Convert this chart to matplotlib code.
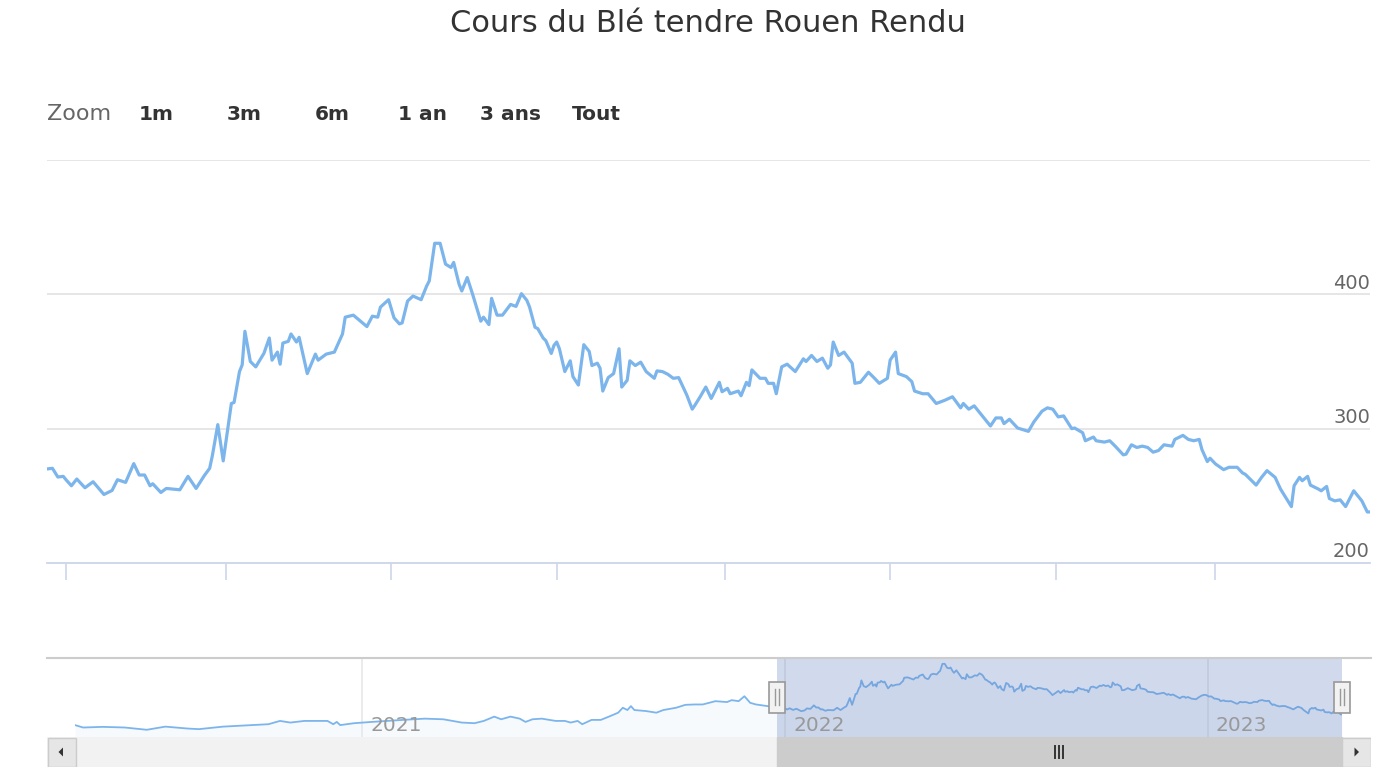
import matplotlib
matplotlib.use("Agg")
import matplotlib.pyplot as plt
import matplotlib.dates as mdates
from matplotlib.patches import Rectangle, Polygon
from matplotlib.lines import Line2D
from matplotlib.transforms import IdentityTransform
import pandas as pd

# cours journalier (€/t) sur la période affichée
dates = [
    "2021-12-25", "2021-12-27", "2021-12-29", "2021-12-31", "2022-01-01", "2022-01-03", "2022-01-05",
    "2022-01-08", "2022-01-11", "2022-01-15", "2022-01-18", "2022-01-20", "2022-01-23", "2022-01-26",
    "2022-01-28", "2022-01-30", "2022-02-01", "2022-02-02", "2022-02-05", "2022-02-07", "2022-02-12",
    "2022-02-15", "2022-02-18", "2022-02-21", "2022-02-23", "2022-02-24", "2022-02-26", "2022-02-28",
    "2022-03-03", "2022-03-04", "2022-03-06", "2022-03-07", "2022-03-08", "2022-03-10", "2022-03-12",
    "2022-03-15", "2022-03-17", "2022-03-18", "2022-03-20", "2022-03-21", "2022-03-22", "2022-03-24",
    "2022-03-25", "2022-03-27", "2022-03-28", "2022-03-31", "2022-04-03", "2022-04-04", "2022-04-07",
    "2022-04-10", "2022-04-13", "2022-04-14", "2022-04-17", "2022-04-22", "2022-04-24", "2022-04-26",
    "2022-04-27", "2022-04-30", "2022-05-02", "2022-05-04", "2022-05-05", "2022-05-07", "2022-05-09",
    "2022-05-12", "2022-05-14", "2022-05-15", "2022-05-17", "2022-05-19", "2022-05-21", "2022-05-23",
    "2022-05-24", "2022-05-26", "2022-05-27", "2022-05-29", "2022-05-31", "2022-06-03", "2022-06-04",
    "2022-06-06", "2022-06-07", "2022-06-09", "2022-06-11", "2022-06-14", "2022-06-16", "2022-06-18",
    "2022-06-20", "2022-06-21", "2022-06-23", "2022-06-24", "2022-06-26", "2022-06-27", "2022-06-29",
    "2022-06-30", "2022-07-01", "2022-07-02", "2022-07-04", "2022-07-06", "2022-07-07", "2022-07-09",
    "2022-07-11", "2022-07-13", "2022-07-14", "2022-07-16", "2022-07-17", "2022-07-18", "2022-07-20",
    "2022-07-22", "2022-07-24", "2022-07-25", "2022-07-27", "2022-07-28", "2022-07-30", "2022-08-01",
    "2022-08-03", "2022-08-06", "2022-08-07", "2022-08-09", "2022-08-11", "2022-08-13", "2022-08-15",
    "2022-08-18", "2022-08-20", "2022-08-21", "2022-08-23", "2022-08-25", "2022-08-27", "2022-08-30",
    "2022-08-31", "2022-09-02", "2022-09-03", "2022-09-06", "2022-09-07", "2022-09-09", "2022-09-10",
    "2022-09-11", "2022-09-14", "2022-09-16", "2022-09-17", "2022-09-19", "2022-09-20", "2022-09-22",
    "2022-09-24", "2022-09-27", "2022-09-30", "2022-10-01", "2022-10-03", "2022-10-05", "2022-10-07",
    "2022-10-09", "2022-10-10", "2022-10-11", "2022-10-13", "2022-10-15", "2022-10-18", "2022-10-19",
    "2022-10-21", "2022-10-24", "2022-10-26", "2022-10-28", "2022-10-31", "2022-11-01", "2022-11-03",
    "2022-11-04", "2022-11-07", "2022-11-09", "2022-11-10", "2022-11-13", "2022-11-15", "2022-11-18",
    "2022-11-21", "2022-11-24", "2022-11-27", "2022-11-28", "2022-11-30", "2022-12-02", "2022-12-08",
    "2022-12-10", "2022-12-12", "2022-12-13", "2022-12-15", "2022-12-18", "2022-12-22", "2022-12-24",
    "2022-12-27", "2022-12-29", "2022-12-31", "2023-01-02", "2023-01-04", "2023-01-07", "2023-01-08",
    "2023-01-11", "2023-01-12", "2023-01-15", "2023-01-16", "2023-01-19", "2023-01-21", "2023-01-23",
    "2023-01-26", "2023-01-27", "2023-01-29", "2023-01-31", "2023-02-02", "2023-02-04", "2023-02-06",
    "2023-02-08", "2023-02-10", "2023-02-13", "2023-02-14", "2023-02-17", "2023-02-19", "2023-02-21",
    "2023-02-23", "2023-02-24", "2023-02-26", "2023-02-27", "2023-03-01", "2023-03-04", "2023-03-06",
    "2023-03-09", "2023-03-11", "2023-03-12", "2023-03-16", "2023-03-18", "2023-03-20", "2023-03-23",
    "2023-03-25", "2023-03-29", "2023-03-30", "2023-04-01", "2023-04-02", "2023-04-04", "2023-04-05",
    "2023-04-08", "2023-04-09", "2023-04-11", "2023-04-12", "2023-04-14", "2023-04-16", "2023-04-18",
    "2023-04-21", "2023-04-24", "2023-04-26", "2023-04-27",
]
prix = [
    270, 270.5, 264, 264.5, 262, 257.5, 262.5,
    256, 260.5, 251, 254, 262, 260, 274,
    265.5, 265.5, 257.5, 259, 252.5, 255.5, 254.5,
    264.5, 255.5, 265, 270.5, 280, 303, 276,
    318.75, 319.5, 342.5, 347.5, 372.5, 350, 346,
    356, 367.5, 351, 357, 348, 363.75, 365,
    370.5, 364.5, 368, 341, 355.5, 351, 355.5,
    357, 370.5, 383, 384.5, 376, 383.75, 383,
    390.5, 396, 382.5, 378, 378.75, 395, 398.75,
    396, 406, 410, 438, 438, 422.5, 420,
    423.75, 407.5, 402.5, 412.5, 400, 380, 383,
    377.5, 397, 384.5, 384.5, 392.5, 391, 400.5,
    395.5, 390.5, 375.5, 374.5, 367.5, 365.5, 356,
    362, 364.5, 359.5, 342.5, 350.5, 338.75, 332.5,
    362.5, 357.5, 347, 348.75, 345, 328, 338,
    341, 359.5, 331, 336, 350.5, 347, 349.5,
    342.5, 337.5, 343, 342.5, 340.5, 337.5, 338,
    325, 314.5, 317.5, 324, 331, 322.5, 334.5,
    327.5, 330, 326, 328, 324.5, 334.5, 332,
    343.75, 337.5, 337.5, 333.75, 333.75, 326, 346,
    348, 342.5, 352, 350, 354.5, 350, 352.5,
    345, 347.5, 364.5, 354.5, 357, 348.75, 333.75,
    334.5, 342, 338, 333.75, 337.5, 351, 357,
    341, 338.75, 335, 328, 326, 326, 318.75,
    321, 323.75, 315.5, 318.75, 314.5, 317, 302,
    308, 308, 303.75, 307, 300.5, 298, 305,
    313, 315.5, 314.5, 308.75, 309.5, 300, 300.5,
    297, 291, 293.75, 291, 290, 291, 287,
    280.5, 281, 288, 286, 287, 286, 282.5,
    283.75, 288, 287, 292, 295, 292, 291,
    292, 284.5, 275.5, 278, 273.75, 269.5, 271.25,
    271.25, 267, 266, 258, 263.75, 268.75, 263.75,
    255, 242, 257.5, 263.75, 261.25, 264.5, 258,
    255, 253.75, 257, 248, 246.25, 247, 242,
    253.75, 246.25, 238, 238,
]

# historique visible seulement dans le navigateur
dates_hist = [
    "2020-04-28", "2020-05-05", "2020-05-22", "2020-06-10", "2020-06-29", "2020-07-15", "2020-08-03",
    "2020-08-13", "2020-09-03", "2020-09-27", "2020-10-12", "2020-10-22", "2020-10-31", "2020-11-12",
    "2020-12-02", "2020-12-07", "2020-12-10", "2020-12-13", "2020-12-25", "2021-01-09", "2021-02-05",
    "2021-02-24", "2021-03-12", "2021-03-28", "2021-04-08", "2021-04-16", "2021-04-25", "2021-05-01",
    "2021-05-09", "2021-05-17", "2021-05-22", "2021-05-28", "2021-06-05", "2021-06-17", "2021-06-25",
    "2021-06-30", "2021-07-06", "2021-07-10", "2021-07-18", "2021-07-26", "2021-08-02", "2021-08-10",
    "2021-08-14", "2021-08-18", "2021-08-21", "2021-08-24", "2021-09-03", "2021-09-12", "2021-09-18",
    "2021-09-29", "2021-10-07", "2021-10-15", "2021-10-22", "2021-11-02", "2021-11-12", "2021-11-16",
    "2021-11-22", "2021-11-27", "2021-12-02", "2021-12-07", "2021-12-17", "2021-12-22",
]
prix_hist = [
    196, 186.5, 189, 186.5, 177.5, 190, 182.5,
    180, 190, 196, 199.5, 212.5, 206, 212.5,
    212.5, 199.5, 208.5, 196, 203.5, 208.5, 216.5,
    221.5, 219, 206, 203.5, 212.5, 229.5, 219,
    229.5, 221.5, 208.5, 219, 221.5, 212.5, 212.5,
    206, 212.5, 199.5, 216.5, 216.5, 229.5, 245,
    264.5, 255.5, 271, 255.5, 251.5, 245, 255.5,
    264.5, 276, 277.5, 277.5, 290.5, 287, 294.5,
    290.5, 310, 284, 277.5, 271, 264.5,
]

ticks_mois = ["2022-01-01", "2022-03-01", "2022-05-01", "2022-07-01",
              "2022-09-01", "2022-11-01", "2023-01-01", "2023-03-01"]
annees = ["2021-01-01", "2022-01-01", "2023-01-01"]
labels_annees = ["2021", "2022", "2023"]
y_grille = [300, 400, 500]
y_labels = [200, 300, 400]
boutons = ["1m", "3m", "6m", "1 an", "3 ans", "Tout"]
boutons_x = [139, 227, 315, 398, 480, 572]

W, H = 1400, 777
fig = plt.figure(figsize=(W / 100, H / 100), dpi=100)


def boite(x0, y0, x1, y1):
    return [x0 / W, 1 - y1 / H, (x1 - x0) / W, (y1 - y0) / H]


bleu = "#7cb5ec"
d = pd.to_datetime(dates)
dh = pd.to_datetime(dates_hist)

# graphique principal
ax = fig.add_axes(boite(47, 160, 1370, 563))
ax.plot(d, prix, color=bleu, lw=2.3, solid_joinstyle="round", zorder=3)
ax.set_xlim(d[0], d[-1])
ax.set_ylim(200, 500)
ax.set_yticks(y_grille)
ax.yaxis.grid(True, color="#e6e6e6", lw=1.4)
ax.tick_params(axis="y", length=0, labelleft=False)
ax.set_xticks(pd.to_datetime(ticks_mois))
ax.tick_params(axis="x", length=12.5, width=1.2, color="#ccd6eb", labelbottom=False)
for s in ["top", "left", "right"]:
    ax.spines[s].set_visible(False)
ax.spines["bottom"].set_color("#ccd6eb")
ax.spines["bottom"].set_linewidth(1.3)
for v in y_labels:
    ax.annotate(str(v), xy=(1, v), xycoords=("axes fraction", "data"),
                xytext=(0, 4), textcoords="offset points", ha="right", va="baseline",
                fontsize=14, color="#666666")

# navigateur
nav_d = dh.append(d)
nav_v = prix_hist + prix
ymin_nav = 149
ax_nav = fig.add_axes(boite(75, 658, 1342, 737))
ax_nav.plot(nav_d, nav_v, color=bleu, lw=1.3, zorder=2)
ax_nav.fill_between(nav_d, nav_v, ymin_nav, color=bleu, alpha=0.06, lw=0, zorder=1)
ax_nav.set_xlim(nav_d[0], nav_d[-1])
ax_nav.set_ylim(ymin_nav, 461)
ax_nav.set_xticks(pd.to_datetime(annees))
ax_nav.xaxis.grid(True, color="#e6e6e6", lw=1.1, zorder=0)
ax_nav.set_yticks([])
ax_nav.tick_params(axis="x", length=0, labelbottom=False)
for s in ax_nav.spines.values():
    s.set_visible(False)
for a, lab in zip(pd.to_datetime(annees), labels_annees):
    ax_nav.annotate(lab, xy=(a, 0), xycoords=("data", "axes fraction"),
                    xytext=(6, 4.5), textcoords="offset points", ha="left", va="baseline",
                    fontsize=14.5, color="#999999", zorder=4)
sel_debut, sel_fin = d[0], d[-1]
ax_nav.axvspan(sel_debut, sel_fin, color="#6685c2", alpha=0.3, lw=0, zorder=3)

# contour du navigateur
fig.add_artist(Line2D([47, 1371], [H - 658, H - 658], transform=IdentityTransform(),
                      color="#cccccc", lw=1.5))

# poignées
xs_sel = [ax_nav.transData.transform((mdates.date2num(t), 0))[0] for t in (sel_debut, sel_fin)]
yc = H - 697
for xs in xs_sel:
    fig.add_artist(Rectangle((xs - 8, yc - 15.5), 16, 31, transform=IdentityTransform(),
                             fc="#f2f2f2", ec="#999999", lw=1.2, zorder=10))
    for dx in (-2, 2):
        fig.add_artist(Line2D([xs + dx, xs + dx], [yc - 8, yc + 8], transform=IdentityTransform(),
                              color="#999999", lw=1.0, zorder=11))

# barre de défilement
ax_sb = fig.add_axes(boite(47, 737, 1371, 767))
ax_sb.set_xlim(0, 1324)
ax_sb.set_ylim(0, 30)
ax_sb.axis("off")
ax_sb.add_patch(Rectangle((0, 0), 1324, 30, fc="#f2f2f2", ec="none"))
x0 = xs_sel[0] - 47
x1 = xs_sel[1] - 47
ax_sb.add_patch(Rectangle((x0, 0), x1 - x0, 30, fc="#cccccc", ec="#cccccc"))
xm = (x0 + x1) / 2
for dx in (-4, 0, 4):
    ax_sb.plot([xm + dx, xm + dx], [9, 21], color="#333333", lw=1.4)
ax_sb.add_patch(Rectangle((0.5, 0.5), 28, 29, fc="#e6e6e6", ec="#cccccc", lw=1))
ax_sb.add_patch(Polygon([(11.5, 15), (16, 19.5), (16, 10.5)], fc="#333333", ec="none"))
ax_sb.add_patch(Rectangle((1295, 0.5), 28.5, 29, fc="#e6e6e6", ec="#cccccc", lw=1))
ax_sb.add_patch(Polygon([(1312, 15), (1307.5, 19.5), (1307.5, 10.5)], fc="#333333", ec="none"))

# titre et sélecteur de période
fig.text(708 / W, 1 - 24 / H, "Cours du Blé tendre Rouen Rendu", ha="center", va="center",
         fontsize=22, color="#333333")
fig.text(47 / W, 1 - 114 / H, "Zoom", ha="left", va="center", fontsize=16, color="#666666")
for lab, x in zip(boutons, boutons_x):
    fig.text(x / W, 1 - 114 / H, lab, ha="left", va="center", fontsize=14.5,
             fontweight="bold", color="#333333")

fig.savefig("out.png", dpi=100)
